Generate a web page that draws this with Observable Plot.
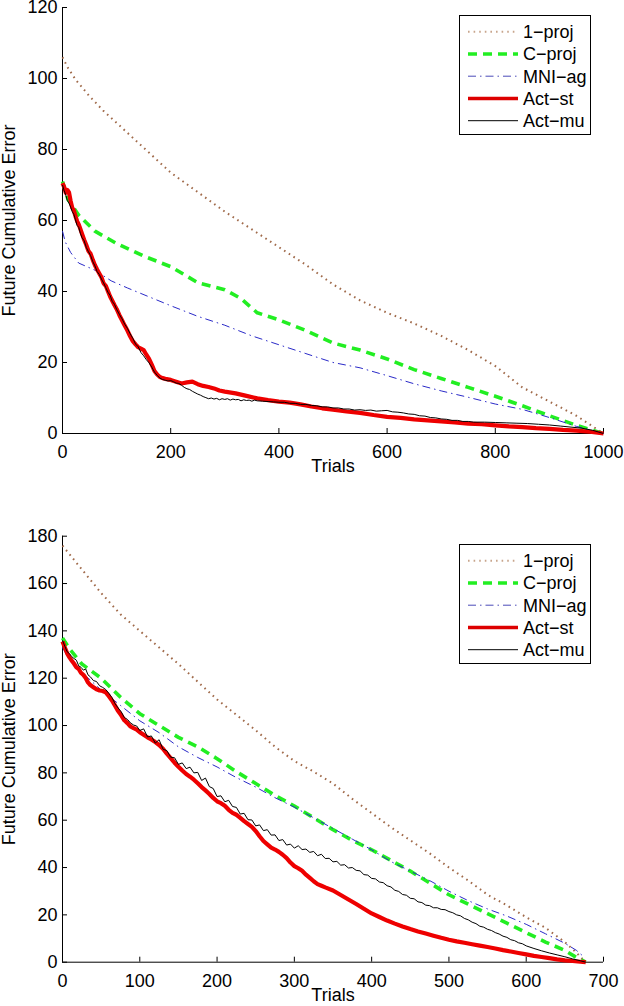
<!DOCTYPE html>
<html>
<head>
<meta charset="utf-8">
<script src="https://cdn.jsdelivr.net/npm/d3@7"></script>
<script src="https://cdn.jsdelivr.net/npm/@observablehq/plot@0.6"></script>
<style>
  html, body { margin: 0; padding: 0; background: #fff; }
  #wrap { position: relative; width: 624px; height: 1006px; overflow: hidden; }
  #wrap svg { display: block; overflow: visible; }
</style>
</head>
<body>
<div id="wrap"></div>
<script>
// ---------- DATA ----------
const seriesNames = ["1\u2212proj", "C\u2212proj", "MNI\u2212ag", "Act\u2212st", "Act\u2212mu"];

const topXTicks = [0, 200, 400, 600, 800, 1000];
const topYTicks = [0, 20, 40, 60, 80, 100, 120];
const botXTicks = [0, 100, 200, 300, 400, 500, 600, 700];
const botYTicks = [0, 20, 40, 60, 80, 100, 120, 140, 160, 180];

// Top panel
const top1proj = [[0,106],[10,103],[25,99.5],[50,95],[75,91],[100,87.5],[150,80.5],[200,73.5],[250,68],[300,62.5],[350,57.5],[400,52.5],[450,47.5],[500,42],[550,37.5],[600,34],[650,31],[700,27.5],[750,23.5],[800,19],[850,13],[900,9],[950,5],[1000,0]];
const topCproj = [[0,71],[10,66],[30,61.5],[60,57],[100,53.5],[150,50],[200,47],[250,42.5],[300,40.5],[330,38],[360,34],[400,32],[450,29],[500,25.5],[550,23.5],[600,21],[650,18],[700,15.5],[750,13],[800,10.5],[850,7.8],[900,5],[950,2.3],[1000,0]];
const topMNI = [[0,57],[5,54],[15,51],[30,48],[60,46],[90,43],[120,41],[160,38.5],[200,36],[250,33],[300,30.5],[350,27.5],[400,25],[450,22.5],[500,20],[550,18.5],[600,16.3],[650,14],[700,12],[750,10.2],[800,8.3],[850,6.8],[900,4.5],[950,2],[1000,0]];
const topActSt = [[0,70.5],[3,69.5],[6,67.8],[9,68.6],[12,67.9],[15,65.5],[18,63.6],[21,62.8],[24,61.2],[27,59.8],[30,58.9],[33,57.6],[36,56.3],[40,54.6],[44,53.1],[48,51.4],[52,50.6],[56,48.9],[60,47.4],[64,46.2],[68,45.1],[72,44.0],[76,42.3],[80,41.6],[84,40.1],[88,38.6],[92,37.4],[96,36.2],[100,35.1],[105,33.4],[110,31.9],[115,30.4],[120,29.0],[125,27.4],[130,26.0],[135,25.1],[140,24.3],[145,23.9],[150,23.5],[155,22.2],[160,21.0],[165,19.4],[170,17.6],[175,16.6],[180,15.9],[185,15.6],[190,15.4],[200,15.1],[210,14.6],[220,14.1],[230,14.4],[240,14.6],[250,13.9],[260,13.4],[270,13.1],[280,12.7],[290,12.1],[300,11.8],[320,11.3],[340,10.6],[360,9.9],[380,9.4],[400,9.0],[420,8.7],[440,8.2],[460,7.6],[480,7.1],[500,6.7],[525,6.2],[550,5.8],[575,5.2],[600,4.7],[625,4.4],[650,4.0],[675,3.7],[700,3.4],[725,3.1],[750,2.8],[775,2.6],[800,2.3],[825,2.0],[850,1.8],[875,1.5],[900,1.3],[925,1.0],[950,0.8],[975,0.5],[1000,0]];
const topActMu = [[0,70],[3,68.4],[6,67.2],[9,65.6],[12,64.9],[15,63.8],[18,62.5],[21,61.7],[24,60.2],[27,58.6],[30,58.1],[33,56.4],[36,55.2],[40,54.3],[44,52.4],[48,51.2],[52,50.1],[56,48.4],[60,47.2],[64,45.6],[68,44.8],[72,43.5],[76,42.4],[80,41.1],[84,39.8],[88,38.9],[92,37.2],[96,36.4],[100,35.0],[105,33.6],[110,32.3],[115,30.8],[120,29.6],[125,28.1],[130,26.8],[135,25.2],[140,24.4],[145,22.8],[150,21.9],[155,20.8],[160,19.9],[165,18.7],[170,17.3],[175,16.4],[180,15.6],[185,15.2],[190,15.0],[195,14.8],[200,14.9],[205,14.6],[210,14.2],[215,14.1],[220,13.6],[225,13.0],[230,12.6],[235,12.4],[240,11.9],[245,11.5],[250,11.1],[255,10.8],[260,10.4],[265,10.1],[270,9.8],[275,10.0],[280,9.7],[285,9.9],[290,9.5],[295,9.8],[300,9.6],[305,9.8],[310,9.4],[315,9.7],[320,9.5],[325,9.6],[330,9.2],[335,9.5],[340,9.3],[345,9.4],[350,9.1],[355,9.4],[360,9.2],[370,9.1],[380,9.0],[390,8.9],[400,8.8],[410,8.8],[420,8.5],[430,8.5],[440,8.2],[450,8.2],[460,7.9],[470,7.8],[480,7.5],[490,7.5],[500,7.2],[510,7.2],[520,6.9],[530,6.9],[540,6.6],[550,6.7],[560,6.5],[570,6.6],[580,6.3],[590,6.4],[600,6.5],[610,6.1],[620,6.0],[630,5.8],[640,5.5],[650,5.4],[660,5.0],[670,4.9],[680,4.5],[690,4.4],[700,4.1],[710,4.0],[720,3.7],[730,3.7],[740,3.4],[750,3.4],[760,3.2],[780,3.2],[800,3.1],[820,3.0],[840,2.9],[860,2.8],[880,2.6],[900,2.4],[920,2.1],[940,1.8],[960,1.5],[980,0.9],[1000,0]];

// Bottom panel
const bot1proj = [[0,176],[10,172],[25,166],[50,156],[75,147],[100,140],[125,133],[150,126],[175,118.5],[200,111],[225,104.5],[250,98],[275,91],[300,85],[325,80.5],[350,75.5],[375,69],[400,63],[425,57],[450,51.5],[475,46],[500,40],[525,34.5],[550,28.5],[575,24],[600,19],[625,14.5],[650,8.5],[665,4],[677,0]];
const botCproj = [[0,137],[10,132],[25,126],[50,120],[75,112],[100,105],[125,100],[150,95],[175,91],[200,86],[225,80.5],[250,75.5],[275,70.5],[300,66],[325,61],[350,56],[375,51.5],[400,47.5],[425,43],[450,38.5],[475,33.5],[500,28.5],[525,24.5],[550,20.5],[575,16.5],[600,12.5],[625,8.5],[650,5],[665,2],[677,0]];
const botMNI = [[0,133],[5,130],[15,126],[30,121],[50,115],[75,108.5],[100,102],[125,97],[150,91],[175,86.5],[200,82.5],[225,78],[250,74],[275,69.5],[300,65.5],[325,61],[350,56.5],[375,52],[400,47.5],[425,42.5],[450,38.5],[475,34.5],[500,30],[525,26],[550,22.5],[575,19.5],[600,16],[625,12],[650,8],[665,5],[672,3]];
const botActSt = [[0,135.5],[3,133],[6,130.5],[9,128.8],[12,127.4],[15,126.1],[18,124.6],[21,123.9],[24,122.2],[27,121.4],[30,120.1],[33,118.2],[36,117.1],[40,116.2],[44,115.3],[48,114.8],[52,114.6],[56,114.0],[60,112.4],[64,110.6],[68,108.4],[72,106.1],[76,104.3],[80,102.2],[84,101.0],[88,99.6],[92,98.9],[96,98.3],[100,97.2],[105,96.1],[110,95.0],[115,94.1],[120,93.0],[125,91.8],[130,90.2],[135,88.1],[140,86.2],[145,84.3],[150,82.6],[155,81.0],[160,79.5],[165,78.4],[170,77.1],[175,75.6],[180,74.0],[185,72.6],[190,71.1],[195,69.4],[200,68.0],[205,67.2],[210,66.1],[215,64.4],[220,63.1],[225,62.3],[230,61.0],[235,59.6],[240,58.4],[245,57.2],[250,55.4],[255,53.2],[260,51.2],[265,49.8],[270,48.4],[275,47.6],[280,46.6],[285,45.4],[290,44.0],[295,42.1],[300,40.6],[305,39.7],[310,38.6],[315,37.0],[320,35.6],[325,34.2],[330,33.0],[335,32.3],[340,31.6],[350,30.3],[360,28.4],[370,26.5],[380,24.6],[390,22.6],[400,20.6],[410,19.1],[420,17.6],[430,16.3],[440,15.1],[450,14.0],[460,13.0],[470,12.1],[480,11.2],[490,10.3],[500,9.5],[510,8.8],[520,8.2],[530,7.6],[540,7.0],[550,6.4],[560,5.8],[570,5.1],[580,4.5],[590,3.9],[600,3.3],[610,2.7],[620,2.2],[630,1.7],[640,1.2],[650,0.8],[660,0.5],[670,0.2],[677,0]];
const botActMu = [[0,136],[3,133.5],[6,131.2],[9,130.4],[12,129.1],[15,128.3],[18,127.6],[21,125.2],[24,124.6],[27,123.4],[30,123.9],[33,121.4],[36,120.6],[40,119.0],[44,118.6],[48,116.8],[52,116.1],[56,115.2],[60,113.6],[64,111.8],[68,109.2],[72,107.4],[76,105.8],[80,103.4],[84,102.6],[88,101.1],[92,100.2],[96,99.8],[100,97.9],[105,98.6],[110,95.2],[115,95.6],[120,92.6],[125,94.0],[130,90.0],[135,89.4],[140,86.6],[145,86.4],[150,83.6],[155,84.2],[160,81.8],[165,82.4],[170,80.0],[175,80.2],[180,76.8],[185,77.8],[190,74.2],[195,73.4],[200,70.0],[205,70.3],[210,67.8],[215,68.4],[220,65.8],[225,65.4],[230,62.6],[235,62.9],[240,60.2],[245,60.1],[250,57.6],[255,58.0],[260,55.6],[265,56.0],[270,53.7],[275,53.8],[280,51.4],[285,51.8],[290,49.5],[295,49.9],[300,48.2],[305,49.2],[310,47.6],[315,47.8],[320,46.4],[325,46.8],[330,45.0],[335,45.6],[340,43.8],[345,43.9],[350,42.4],[355,42.6],[360,41.0],[365,41.2],[370,39.8],[375,40.0],[380,38.8],[385,38.6],[390,37.0],[395,36.8],[400,35.4],[405,35.2],[410,33.9],[415,33.6],[420,32.3],[425,31.8],[430,30.4],[435,29.9],[440,28.6],[445,28.3],[450,27.0],[455,26.8],[460,25.5],[465,25.2],[470,24.1],[475,23.9],[480,23.0],[485,23.0],[490,22.3],[495,22.2],[500,21.4],[505,20.9],[510,20.0],[515,19.6],[520,18.5],[525,17.9],[530,16.9],[535,16.3],[540,15.2],[545,14.8],[550,13.9],[555,13.4],[560,12.5],[565,11.9],[570,11.0],[575,10.5],[580,9.5],[585,9.1],[590,8.2],[595,7.8],[600,6.9],[610,5.8],[620,4.8],[630,3.9],[640,3.1],[650,2.3],[660,1.4],[670,0.6],[677,0]];

// ---------- STYLES ----------
const FONT = "'Liberation Sans', Arial, Helvetica, sans-serif";
const FS = 18;
const styles = [
  {stroke: "#a06a4a", strokeWidth: 2, strokeDasharray: "1.6,4"},
  {stroke: "#22ee22", strokeWidth: 3.6, strokeDasharray: "9,6"},
  {stroke: "#2a2ac8", strokeWidth: 1, strokeDasharray: "8,4,1.5,4"},
  {stroke: "#ee0000", strokeWidth: 4.2},
  {stroke: "#000000", strokeWidth: 1}
];
const legendStyles = [
  {stroke: "#c8a58c", strokeWidth: 2, strokeDasharray: "1.6,4"},
  {stroke: "#22ee22", strokeWidth: 3.6, strokeDasharray: "9,6"},
  {stroke: "#4a4ab8", strokeWidth: 1, strokeDasharray: "8,4,1.5,4"},
  {stroke: "#dd0000", strokeWidth: 3.6},
  {stroke: "#000000", strokeWidth: 1}
];

function makePanel({series, xDomain, yDomain, xTicks, yTicks, height, marginTop, marginBottom}) {
  const marks = [
    Plot.ruleX([xDomain[0]], {stroke: "black", strokeWidth: 1}),
    Plot.ruleY([yDomain[0]], {stroke: "black", strokeWidth: 1}),
    Plot.axisY({ticks: yTicks, tickSize: -5, tickPadding: 10, tickFormat: d => String(d), label: null, fontSize: FS}),
    Plot.axisX({ticks: xTicks, tickSize: -5, tickPadding: 17, tickFormat: d => String(d), label: null, fontSize: FS}),
    Plot.text(["Future Cumulative Error"], {frameAnchor: "left", rotate: -90, dx: -53.5, fontSize: FS, textAnchor: "middle"}),
    Plot.text(["Trials"], {frameAnchor: "bottom", dy: 38.5, fontSize: FS, textAnchor: "middle"})
  ];
  series.forEach((s, i) => {
    marks.push(Plot.line(s, {x: d => d[0], y: d => d[1], ...styles[i], strokeLinecap: "butt", strokeLinejoin: "round"}));
  });
  return Plot.plot({
    width: 624,
    height,
    marginLeft: 62,
    marginRight: 21,
    marginTop,
    marginBottom,
    x: {domain: xDomain},
    y: {domain: yDomain},
    style: {fontFamily: FONT, fontSize: FS + "px", color: "black", background: "white", overflow: "visible"},
    marks
  });
}

function makeLegend(top) {
  const ns = "http://www.w3.org/2000/svg";
  const svg = document.createElementNS(ns, "svg");
  svg.setAttribute("width", 624);
  svg.setAttribute("height", 140);
  svg.style.position = "absolute";
  svg.style.left = "0px";
  svg.style.top = top + "px";
  const rect = document.createElementNS(ns, "rect");
  rect.setAttribute("x", 459.5); rect.setAttribute("y", 15.5);
  rect.setAttribute("width", 131); rect.setAttribute("height", 119);
  rect.setAttribute("fill", "white"); rect.setAttribute("stroke", "black");
  svg.appendChild(rect);
  seriesNames.forEach((name, i) => {
    const y = 31.7 + i * 22.25;
    const ln = document.createElementNS(ns, "line");
    ln.setAttribute("x1", 468); ln.setAttribute("x2", 518);
    ln.setAttribute("y1", y); ln.setAttribute("y2", y);
    const st = legendStyles[i];
    ln.setAttribute("stroke", st.stroke);
    ln.setAttribute("stroke-width", st.strokeWidth);
    if (st.strokeDasharray) ln.setAttribute("stroke-dasharray", st.strokeDasharray);
    svg.appendChild(ln);
    const t = document.createElementNS(ns, "text");
    t.setAttribute("x", 523); t.setAttribute("y", y);
    t.setAttribute("dy", "0.35em");
    t.setAttribute("font-family", FONT);
    t.setAttribute("font-size", FS);
    t.textContent = name;
    svg.appendChild(t);
  });
  return svg;
}

const wrap = document.getElementById("wrap");
const topPanel = makePanel({
  series: [top1proj, topCproj, topMNI, topActSt, topActMu],
  xDomain: [0, 1000], yDomain: [0, 120],
  xTicks: topXTicks, yTicks: topYTicks,
  height: 490, marginTop: 7, marginBottom: 57
});
const botPanel = makePanel({
  series: [bot1proj, botCproj, botMNI, botActSt, botActMu],
  xDomain: [0, 700], yDomain: [0, 180],
  xTicks: botXTicks, yTicks: botYTicks,
  height: 516, marginTop: 45.7, marginBottom: 44.3
});
wrap.appendChild(topPanel);
wrap.appendChild(botPanel);
wrap.appendChild(makeLegend(0));
wrap.appendChild(makeLegend(528.6));
</script>
</body>
</html>
